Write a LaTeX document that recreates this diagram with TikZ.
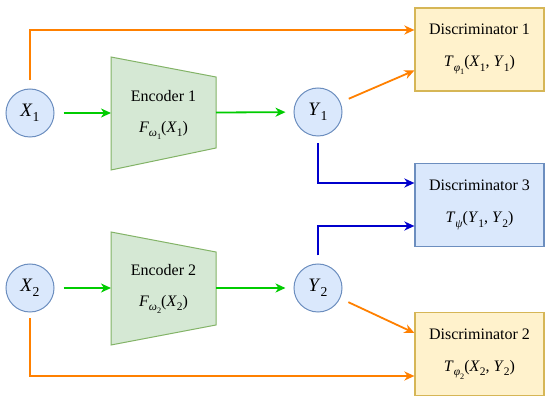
\documentclass[tikz,border=0pt]{standalone}
\usepackage{fontspec}
\setmainfont{Liberation Serif}
\usetikzlibrary{arrows.meta}
\definecolor{bfill}{HTML}{DAE8FC}
\definecolor{bline}{HTML}{6C8EBF}
\definecolor{gfill}{HTML}{D5E8D4}
\definecolor{gline}{HTML}{82B366}
\definecolor{yfill}{HTML}{FFF2CC}
\definecolor{yline}{HTML}{D6B656}
\definecolor{corange}{HTML}{FF8000}
\definecolor{cgreen}{HTML}{00CC00}
\definecolor{cblue}{HTML}{0000CC}
\newcommand\lo[1]{\raisebox{-0.28em}{\scalebox{0.72}{#1}}}
\begin{document}
\begin{tikzpicture}[x=1pt,y=-1pt,
  circ/.style={circle, draw=bline, fill=bfill, line width=1pt, minimum size=48pt, inner sep=0pt, font=\fontsize{19}{22}\selectfont},
  ybox/.style={rectangle, draw=yline, fill=yfill, line width=1.2pt, minimum width=129pt, minimum height=83pt, align=center, font=\fontsize{16}{32}\selectfont},
  bbox/.style={ybox, draw=bline, fill=bfill},
  enc/.style={draw=gline, fill=gfill, line width=1pt},
  enctext/.style={align=center, font=\fontsize{16}{31}\selectfont},
  tipx/.style={-{Stealth[length=10pt,width=9pt,inset=3pt]}, line width=1.8pt},
  garr/.style={tipx, draw=cgreen},
  oarr/.style={tipx, draw=corange},
  barr/.style={tipx, draw=cblue}]
\useasboundingbox (0,0) rectangle (550,401);
% encoders
\draw[enc] (111,57) -- (216,77) -- (216,148) -- (111,170) -- cycle;
\draw[enc] (111,232) -- (216,252) -- (216,325) -- (111,345) -- cycle;
\coordinate (e1w) at (111,113);
\coordinate (e1e) at (216,112.5);
\coordinate (e2w) at (111,288);
\coordinate (e2e) at (216,288);
\node[enctext] (e1t) at (163.5,115) {Encoder 1\\ \textit{F}\lo{\textit{ω}\lo{1}}(\textit{X}\lo{1})};
\node[enctext] (e2t) at (163.5,289) {Encoder 2\\ \textit{F}\lo{\textit{ω}\lo{2}}(\textit{X}\lo{2})};
% circles
\node[circ] (x1) at (30,113) {\textit{X}\lo{1}};
\node[circ] (y1) at (318,112) {\textit{Y}\lo{1}};
\node[circ] (x2) at (30,288) {\textit{X}\lo{2}};
\node[circ] (y2) at (318,288) {\textit{Y}\lo{2}};
% discriminators
\node[ybox] (d1) at (479.5,49.5) {Discriminator 1\\ \textit{T}\lo{\textit{φ}\lo{1}}(\textit{X}\lo{1}, \textit{Y}\lo{1})};
\node[bbox] (d3) at (479.5,205) {Discriminator 3\\ \textit{T}\lo{\textit{ψ}}(\textit{Y}\lo{1}, \textit{Y}\lo{2})};
\node[ybox] (d2) at (479.5,354) {Discriminator 2\\ \textit{T}\lo{\textit{φ}\lo{2}}(\textit{X}\lo{2}, \textit{Y}\lo{2})};
% green arrows
\draw[garr, shorten <=9pt] (x1) -- (e1w);
\draw[garr, shorten >=8pt] (e1e) -- (y1);
\draw[garr, shorten <=9pt] (x2) -- (e2w);
\draw[garr, shorten >=8pt] (e2e) -- (y2);
% orange arrows
\draw[oarr, shorten <=8pt] (x1.north) |- ([yshift=19.5pt]d1.west);
\draw[oarr, shorten <=9pt] (y1) -- ([yshift=-21pt]d1.west);
\draw[oarr, shorten <=9pt] (y2) -- ([yshift=21pt]d2.west);
\draw[oarr, shorten <=6pt] (x2.south) |- ([yshift=-22pt]d2.west);
% blue arrows
\draw[barr, shorten <=7pt] (y1.south) |- ([yshift=22pt]d3.west);
\draw[barr, shorten <=8pt] (y2.north) |- ([yshift=-21pt]d3.west);
\end{tikzpicture}
\end{document}
